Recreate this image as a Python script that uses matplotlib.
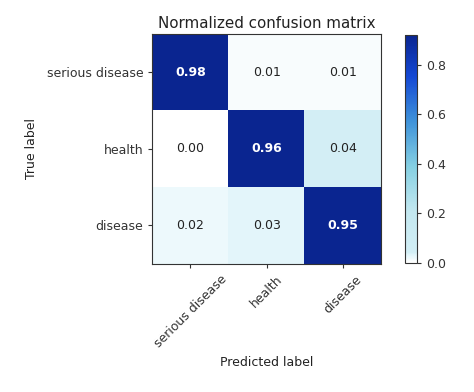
import numpy as np
import matplotlib
matplotlib.use("Agg")
import matplotlib.pyplot as plt
from matplotlib.colors import LinearSegmentedColormap

classes = ["serious disease", "health", "disease"]
values = np.array([
    [0.98, 0.01, 0.01],
    [0.00, 0.96, 0.04],
    [0.02, 0.03, 0.95],
])
cbar_max = 0.92
cbar_ticks = [0.0, 0.2, 0.4, 0.6, 0.8]

cmap = LinearSegmentedColormap.from_list(
    "ref_blues",
    [(0.0, "#ffffff"), (0.033, "#e2f5fa"), (0.044, "#d2eef5"),
     (0.22, "#c4e8f0"), (0.42, "#86d0e2"),
     (0.62, "#3f93da"), (0.82, "#1448d4"), (1.0, "#0a2590")])

fig = plt.figure(figsize=(4.74, 3.92), dpi=100)
ax = fig.add_axes([0.321, 0.327, 0.483, 0.587])
cax = fig.add_axes([0.854, 0.329, 0.026, 0.582])

im = ax.imshow(values, cmap=cmap, vmin=0, vmax=cbar_max, aspect="auto",
               interpolation="nearest")
cb = fig.colorbar(im, cax=cax, ticks=cbar_ticks)
cb.ax.tick_params(labelsize=9, length=3, colors="#333333")
cb.outline.set_edgecolor("#333333")

thresh = values.max() / 2.0
for i in range(values.shape[0]):
    for j in range(values.shape[1]):
        v = values[i, j]
        ax.text(j, i, f"{v:.2f}", ha="center", va="center", fontsize=9,
                color="white" if v > thresh else "#222222",
                fontweight="bold" if v > thresh else "normal")

ax.set_xticks(range(len(classes)))
ax.set_yticks(range(len(classes)))
ax.set_xticklabels(classes, rotation=45, fontsize=9)
ax.set_yticklabels(classes, fontsize=9)
ax.tick_params(colors="#333333", length=3)
for s in ax.spines.values():
    s.set_edgecolor("#333333")
ax.set_title("Normalized confusion matrix", fontsize=10.9, color="#222222", pad=4)
ax.set_xlabel("Predicted label", fontsize=9, color="#222222", labelpad=4)
ax.set_ylabel("True label", fontsize=9, color="#222222", labelpad=6)

fig.savefig("out.png", dpi=100, facecolor="white")
